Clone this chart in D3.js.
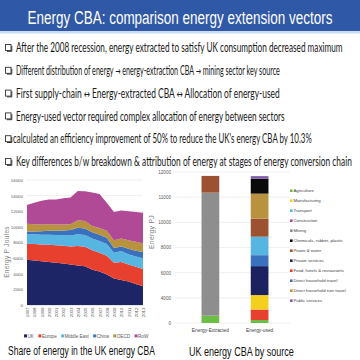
<!DOCTYPE html>
<html><head><meta charset="utf-8">
<script src="https://cdn.jsdelivr.net/npm/d3@7"></script>
<style>body{margin:0;background:#fff}svg{display:block}</style>
</head><body><svg id="c" width="360" height="360"></svg>
<script>
// ---------- DATA ----------
const titleText = "Energy CBA: comparison energy extension vectors";
const bullets = [
  "After the 2008 recession, energy extracted to satisfy UK consumption decreased maximum",
  "Different distribution of energy \u2192 energy-extraction CBA \u2192 mining sector key source",
  "First supply-chain \u2194 Energy-extracted CBA \u2194 Allocation of energy-used",
  "Energy-used vector required complex allocation of energy between sectors",
  "calculated an efficiency improvement of 50% to reduce the UK's energy CBA by 10.3%",
  "Key differences b/w breakdown & attribution of energy at stages of energy conversion chain"
];
const years = [1997,1998,1999,2000,2001,2002,2003,2004,2005,2006,2007,2008,2009,2010,2011,2012,2013];
const regions = ["UK","Europe","Middle East","China","OECD","RoW"];
const ukVals     = [5800,5700,5600,5500,5400,5300,5200,5050,4950,4500,4300,3900,3400,3200,3000,2700,2400];
const europeVals = [2050,2100,2150,2200,2250,2300,2300,2500,2500,2500,2400,2400,2000,2300,2200,2200,2200];
const meVals     = [1250,1250,1250,1300,1300,1350,1400,1500,1500,1500,1500,1500,1300,1400,1300,1300,1400];
const chinaVals  = [300,350,450,500,550,600,700,850,850,800,800,800,600,600,700,750,800];
const oecdVals   = [1000,950,850,850,800,750,750,950,950,800,850,900,1000,1000,1100,1150,1100];
const rowVals    = [2400,2750,3050,3150,3200,3350,3400,3750,3800,4300,4350,3600,3600,3600,3700,3800,3900];
const leftTicks = [0,2000,4000,6000,8000,10000,12000,14000,16000];
const leftTitle = "Share of energy in the UK energy CBA";

const vectors = ["Energy-Extracted","Energy-used"];
const sectorLegend = ["Agriculture","Manufacturing","Transport","Construction","Mining","Chemicals, rubber, plastic","Power & water","Private services","Food, hotels & restaurants","Direct household travel","Direct household non travel","Public services"];
const stackOrder = ["Agriculture","Food, hotels & restaurants","Manufacturing","Mining","Private services","Direct household travel","Transport","Power & water","Direct household non travel","Chemicals, rubber, plastic","Public services","Construction"];
// values per sector: [Energy-Extracted, Energy-used]
const agriculture   = [580, 240];
const food          = [0, 830];
const manufacturing = [0, 1150];
const mining        = [9780, 0];
const privateServ   = [0, 2300];
const hhTravel      = [0, 870];
const transport     = [0, 1470];
const powerWater    = [1330, 1430];
const hhNonTravel   = [0, 1990];
const chemicals     = [0, 1190];
const publicServ    = [0, 200];
const construction  = [0, 0];
const rightTickValues = [0,2000,4000,6000,8000,10000,12000];
const rightTickLabels = ["0","4000","6000","8000","10000","11000","12000"];
const rightTitle = "UK energy CBA by source";

// ---------- STYLE ----------
const regionColors = ["#1E2566","#E8402F","#56B5E1","#3A71BF","#B8923E","#B04A96"];
const sectorColors = {
  "Agriculture":"#6DBE46","Manufacturing":"#F3CF1F","Transport":"#56B5E1","Construction":"#B04A96",
  "Mining":"#8E8E8E","Chemicals, rubber, plastic":"#0A0A0A","Power & water":"#9C5230","Private services":"#1C2260",
  "Food, hotels & restaurants":"#E8402F","Direct household travel":"#3A71BF","Direct household non travel":"#B8923E","Public services":"#7E5BA8"
};
const narrow = "'Liberation Sans Narrow','Liberation Sans',Arial,sans-serif";
const body = "Lato,'Open Sans',sans-serif";
const small = "'Liberation Sans',Arial,sans-serif";

const svg = d3.select("#c");

// fit a text horizontally to a target width by scaling (keeps real text)
function fitText(parent, str, x, y, width, anchor, attrs){
  const t = parent.append("text").attr("x",0).attr("y",0);
  Object.entries(attrs).forEach(([k,v])=>t.attr(k,v));
  str.split(/([\u2192\u2194])/).forEach(part=>{
    if(part === "") return;
    const ts = t.append("tspan").text(part);
    if(/[\u2192\u2194]/.test(part)) ts.attr("font-family","'DejaVu Sans Condensed','DejaVu Sans',sans-serif").attr("font-size",12);
  });
  const w = t.node().getComputedTextLength();
  const s = width / w;
  const x0 = anchor === "middle" ? x - width/2 : x;
  t.attr("transform",`translate(${x0},${y}) scale(${s},1)`);
  return t;
}

// ---------- TITLE ----------
svg.append("rect").attr("x",0).attr("y",0).attr("width",360).attr("height",31).attr("fill","#2F58A6");
svg.append("rect").attr("x",0).attr("y",31).attr("width",360).attr("height",2.5).attr("fill","#C9DCF1");
fitText(svg, titleText, 180, 24, 305, "middle", {"font-family":narrow,"font-size":19,"fill":"#fff"});

// ---------- BULLETS ----------
const bulletX = [16,16,16,16,13,16];
const bulletW = [327,264,264,269,299,336];
bullets.forEach((t,i)=>{
  const cy = 48 + i*22.8;
  const g = svg.append("g");
  g.append("rect").attr("x",5.5).attr("y",cy-3.5).attr("width",5.5).attr("height",6)
    .attr("fill","none").attr("stroke","#333").attr("stroke-width",0.9);
  g.append("path").attr("d",`M7,${cy+3.3}H11.8V${cy-2.2}`).attr("fill","none").attr("stroke","#333").attr("stroke-width",1);
  fitText(g, t, bulletX[i], cy+4.2, bulletW[i], "start", {"font-family":body,"font-size":12.5,"fill":"#1a1a1a"});
});

// ---------- LEFT CHART ----------
const xL = d3.scaleLinear().domain([1997,2013]).range([27,143]);
const yL = d3.scaleLinear().domain([0,16000]).range([305,180]);
const rows = years.map((y,i)=>({year:y,"UK":ukVals[i],"Europe":europeVals[i],"Middle East":meVals[i],"China":chinaVals[i],"OECD":oecdVals[i],"RoW":rowVals[i]}));
const stackL = d3.stack().keys(regions)(rows);

svg.append("g").selectAll("line").data(leftTicks).join("line")
  .attr("x1",27).attr("x2",143).attr("y1",d=>yL(d)).attr("y2",d=>yL(d))
  .attr("stroke","#E3E3E3").attr("stroke-width",0.6);

const area = d3.area().x(d=>xL(d.data.year)).y0(d=>yL(d[0])).y1(d=>yL(d[1]));
svg.append("g").selectAll("path").data(stackL).join("path")
  .attr("d",area).attr("fill",(d,i)=>regionColors[i]);

const axL = svg.append("g").attr("transform","translate(27,0)")
  .call(d3.axisLeft(yL).tickValues(leftTicks).tickSize(0).tickPadding(4).tickFormat(d3.format("d")));
axL.select(".domain").remove();
axL.selectAll("text").attr("font-family",small).attr("font-size",4.4).attr("fill","#595959");

const axB = svg.append("g").attr("transform","translate(0,305)")
  .call(d3.axisBottom(xL).tickValues(years).tickSize(0).tickFormat(d3.format("d")));
axB.select(".domain").attr("stroke","#D9D9D9").attr("stroke-width",0.6);
axB.selectAll("text").attr("font-family",small).attr("font-size",4.4).attr("fill","#595959")
  .attr("transform","rotate(-90)").attr("text-anchor","end").attr("x",-2.5).attr("y",0).attr("dy","0.35em");

svg.append("text").attr("transform","translate(8.5,252) rotate(-90)").attr("text-anchor","middle")
  .attr("font-family",small).attr("font-size",6.5).attr("fill","#7F7F7F").attr("letter-spacing",0.3).text("Energy P Joules");

// legend left
const legL = svg.append("g").attr("transform","translate(24,336)");
let lx = 0;
regions.forEach((r,i)=>{
  legL.append("rect").attr("x",lx).attr("y",-1.6).attr("width",3).attr("height",3).attr("fill",regionColors[i]);
  const t = legL.append("text").attr("x",lx+3.5).attr("y",1.6).attr("font-family",small).attr("font-size",4.6).attr("fill","#595959").text(r);
  lx += 3.5 + t.node().getComputedTextLength() + 4.5;
});

fitText(svg, leftTitle, 8, 355, 147, "start", {"font-family":narrow,"font-size":12.5,"fill":"#111"});

// ---------- RIGHT CHART ----------
const sectorVals = {"Agriculture":agriculture,"Food, hotels & restaurants":food,"Manufacturing":manufacturing,"Mining":mining,
  "Private services":privateServ,"Direct household travel":hhTravel,"Transport":transport,"Power & water":powerWater,
  "Direct household non travel":hhNonTravel,"Chemicals, rubber, plastic":chemicals,"Public services":publicServ,"Construction":construction};
const rRows = vectors.map((v,i)=>{const o={vector:v}; stackOrder.forEach(s=>o[s]=sectorVals[s][i]); return o;});
const stackR = d3.stack().keys(stackOrder)(rRows);

const xR = d3.scaleBand().domain(vectors).range([172,298]).paddingInner(0.64).paddingOuter(0.6);
const yR = d3.scaleLinear().domain([0,12000]).range([323,172]);

svg.append("g").selectAll("line").data(rightTickValues).join("line")
  .attr("x1",175).attr("x2",290).attr("y1",d=>yR(d)).attr("y2",d=>yR(d))
  .attr("stroke","#E6E6E6").attr("stroke-width",0.6);

svg.append("g").selectAll("g").data(stackR).join("g").attr("fill",d=>sectorColors[d.key])
  .selectAll("rect").data(d=>d).join("rect")
  .attr("x",d=>xR(d.data.vector)).attr("width",xR.bandwidth())
  .attr("y",d=>yR(d[1])).attr("height",d=>yR(d[0])-yR(d[1]));

const axR = svg.append("g").attr("transform","translate(175,0)")
  .call(d3.axisLeft(yR).tickValues(rightTickValues).tickSize(0).tickPadding(4)
    .tickFormat((d,i)=>rightTickLabels[i]));
axR.select(".domain").remove();
axR.selectAll("text").attr("font-family",small).attr("font-size",4.6).attr("fill","#595959");

const axRB = svg.append("g").attr("transform","translate(0,323)")
  .call(d3.axisBottom(xR).tickSize(0).tickPadding(6));
axRB.select(".domain").remove();
axRB.selectAll("text").attr("font-family",small).attr("font-size",4.8).attr("fill","#404040");

svg.append("text").attr("transform","translate(153.5,232) rotate(-90)").attr("text-anchor","middle")
  .attr("font-family",small).attr("font-size",6.8).attr("fill","#7F7F7F").attr("letter-spacing",0.3).text("Energy PJ");

// legend right
const legR = svg.append("g").attr("transform","translate(290,190.7)");
sectorLegend.forEach((s,i)=>{
  legR.append("rect").attr("x",0).attr("y",i*10-1.3).attr("width",2.6).attr("height",2.6).attr("fill",sectorColors[s]);
  legR.append("text").attr("x",3.4).attr("y",i*10+1.5).attr("font-family",small).attr("font-size",4.3).attr("fill","#404040").text(s);
});

fitText(svg, rightTitle, 189, 356, 105, "start", {"font-family":narrow,"font-size":13.5,"fill":"#111"});
</script></body></html>
